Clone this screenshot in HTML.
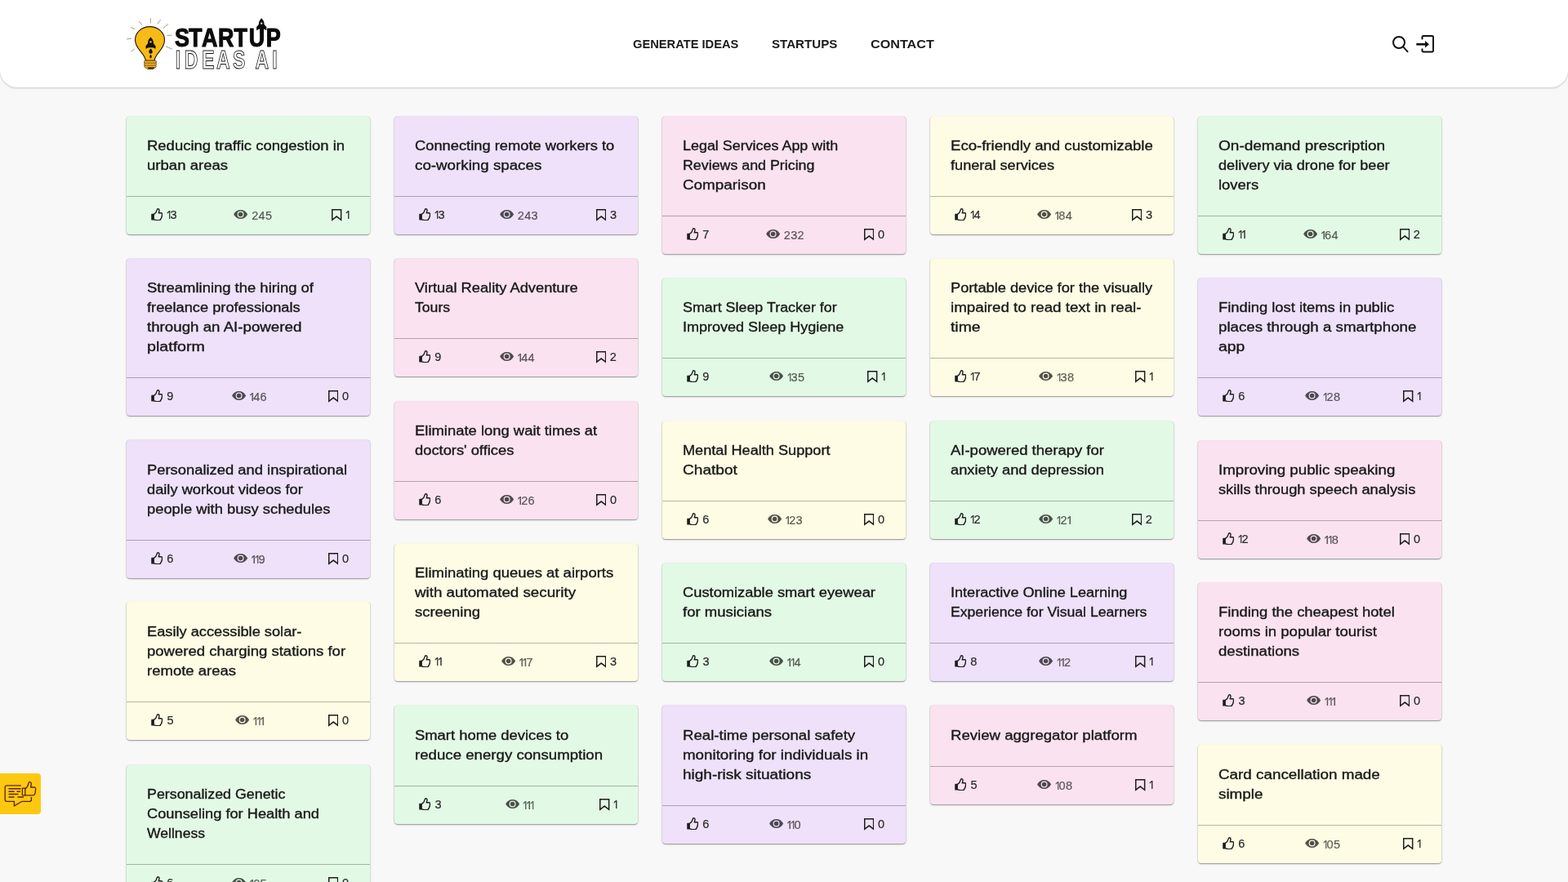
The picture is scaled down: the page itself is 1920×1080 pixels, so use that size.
<!DOCTYPE html>
<html lang="en"><head><meta charset="utf-8"><title>Startup Ideas AI</title>
<style>
*{box-sizing:border-box;margin:0;padding:0}
html,body{width:1920px;height:1080px;overflow:hidden}
body{background:#f8f8f8;font-family:"Liberation Sans",sans-serif;color:#1f1f1f;position:relative}
header{position:absolute;left:0;top:0;width:1920px;height:107px;background:#fff;border-radius:0 0 21px 21px;box-shadow:0 1px 3px rgba(0,0,0,.13),0 1px 2px rgba(0,0,0,.08)}
header nav a{position:absolute;top:44.1px;line-height:20px;font-size:15.2px;font-weight:700;color:#1a1a1a;white-space:nowrap;transform-origin:0 50%;text-decoration:none}
.logo{position:absolute;left:150px;top:16px}
.hi{position:absolute;left:1700px;top:40px}
.card{position:absolute;width:298px;border-radius:4px;box-shadow:0 2px 1px -1px rgba(0,0,0,.2),0 1px 1px 0 rgba(0,0,0,.14),0 1px 3px 0 rgba(0,0,0,.12),1px 0 0 0 rgba(0,0,0,.07),-1px 0 0 0 rgba(0,0,0,.07),0 -1px 1px -.5px var(--c)}
.t{position:absolute;left:24.5px;top:23.9px;font-weight:400;font-size:16.0px;line-height:24px;color:#181818;-webkit-text-stroke:.34px #181818}
.t span{display:block;white-space:nowrap;transform-origin:0 50%}
.f{position:absolute;left:0;right:0;bottom:0;height:47px;border-top:1px solid rgba(0,0,0,.28)}
.f .g{position:absolute;top:0;height:46px;display:flex;align-items:center;color:#1c1c1c}
.f .g.v{color:rgba(0,0,0,.68)}
.f .n{position:absolute;top:-1.1px;height:46px;line-height:46px;font-size:14.5px;letter-spacing:0.336px;color:#2a2a2a;white-space:nowrap;-webkit-text-stroke:.2px currentColor}
.f .n.v{color:rgba(0,0,0,.62);top:-.1px}
.f .n i{font-style:normal;display:inline-block;width:4.4px;letter-spacing:0;text-indent:-.75px;clip-path:inset(0 0 19.4px 0);transform:translateY(.6px) scaleY(1.1);transform-origin:50% 18px}
.ic{display:block}
.ic.like{margin-top:-3px}
.ic.eye{margin-top:-3px}
.ic.bm{margin-top:-1.3px}
.fb{position:absolute;left:0;top:947px;width:50px;height:50px;background:#fec810;border-radius:0 4px 4px 0}
</style></head>
<body>
<header>
<svg class="logo" width="200" height="76" viewBox="150 16 200 76">
<g stroke="#555" stroke-width=".6" stroke-linecap="round" fill="none">
<path d="M184.300 22.500v5.500M170.500 26.500l3 3.500M196.500 24.500l-3.500 4.500M205.500 29.500l-5.500 5M160.500 33.500l4 2M205 43.500l5 -.300M155.500 47.800l5 -.500M203.500 57l7 3M164.500 60l-3.500 3"/>
</g>
<path d="M183.500 32.600c-10 0-18 7.200-18 16.500 0 5.800 3.200 9.800 6.500 13.800 2.800 3.400 5.800 6.800 6.300 11.300h10.800c.5-4.500 3.500-7.900 6.300-11.300 3.300-4 6.100-8 6.100-13.800 0-9.300-8-16.500-18-16.500z" fill="#f6bb16" stroke="#24160c" stroke-width="1.1"/>
<path d="M177.800 74.200h12.200c1 0 1.600.6 1.600 1.400s-.4 1.300-1 1.500c.6.200 1 .7 1 1.400 0 .8-.5 1.300-1.100 1.500.5.300.8.700.8 1.300 0 1-1.200 1.700-2.300 2l-1.600 1.300h-6.800l-1.600-1.300c-1.200-.3-2.300-1-2.300-2 0-.6.300-1 .8-1.300-.7-.2-1.100-.7-1.100-1.500 0-.7.400-1.200 1-1.400-.6-.2-1-.8-1-1.500s.6-1.400 1.400-1.400z" fill="#f0b020" stroke="#3a2614" stroke-width=".7"/>
<path d="M176.800 77.200h14.400M176.800 80.100h14.200" stroke="#5a3a18" stroke-width=".7" fill="none"/><path d="M180.500 82.300h8.800l-1.300 2.300h-6.200z" fill="#3a2a22"/>
<path d="M184.500 45.400c-2.400 2-3.600 4.800-3.600 8.200l-2.400 2.600v3.600l3.200-1.600h5.600l3.200 1.600v-3.600l-2.400-2.600c0-3.400-1.200-6.200-3.600-8.200z" fill="#111"/>
<circle cx="184.500" cy="51.200" r="1.200" fill="#f7b81a"/>
<path d="M184.500 59.500c-1.500 1.400-2.200 2.700-2.200 3.900 0 1.300 1 2.300 2.200 2.300s2.200-1 2.200-2.300c0-1.200-.7-2.500-2.200-3.900zM184.500 66.800c-.9 1-1.300 1.800-1.300 2.500 0 .8.600 1.600 1.300 2.400.7-.8 1.300-1.600 1.300-2.400 0-.7-.4-1.500-1.300-2.500z" fill="#111"/>
<g transform="translate(0 57) scale(0.88 1)"><text y="0" x="243.2 262.4 280.6 303.5 325.5 346.4 370.1" font-family="'Liberation Sans',sans-serif" font-weight="700" font-size="30.6" fill="#0b0b0b" stroke="#0b0b0b" stroke-width="1" stroke-linejoin="round" vector-effect="non-scaling-stroke">STARTUP</text></g>
<path d="M320.200 22.300c-2.300 2-3.400 4.700-3.400 7.800l-2.700 2.900v4.300l3.300-1.700h.6v5h4.400v-5h.6l3.300 1.700v-4.300l-2.700-2.900c0-3.100-1.100-5.800-3.400-7.800z" fill="#0b0b0b"/><circle cx="320.200" cy="28.600" r="1.200" fill="#fff"/>
<g transform="translate(0 83.600) scale(0.72 1)"><text y="0" x="298.2 313.4 343.5 368.0 395.7 420.7 434.2 462.8" font-family="'Liberation Sans',sans-serif" font-weight="700" font-size="32" fill="#fff" stroke="#151515" stroke-width=".85" vector-effect="non-scaling-stroke">IDEAS AI</text></g>
</svg>
<nav><a style="left:775.3px;transform:scaleX(0.9659)">GENERATE IDEAS</a><a style="left:945.1px;transform:scaleX(0.9952)">STARTUPS</a><a style="left:1065.5px;transform:scaleX(1.0645)">CONTACT</a></nav>
<svg class="hi" width="60" height="28" viewBox="1700 40 60 28" fill="none" stroke="#111" stroke-width="2" stroke-linecap="round" stroke-linejoin="round">
<circle cx="1713" cy="52" r="7"/>
<path d="M1718.200 57.400l5.300 5.800"/>
<path d="M1741.500 47.600v-2.100a1.500 1.500 0 0 1 1.500-1.500h10.500a1.500 1.500 0 0 1 1.500 1.500v16.500a1.500 1.500 0 0 1-1.500 1.500h-10.500a1.500 1.500 0 0 1-1.500-1.500v-1.700"/>
<path d="M1734.300 54.200h11.500" stroke-width="2.700" stroke-linecap="butt"/>
<path d="M1745 49.900l5 4.300-5 4.300z" fill="#111" stroke="none"/>
</svg>
</header>
<main>
<article class="card" style="left:155px;top:143px;height:144px;--c:#e2fae5;background:#e2fae5"><h3 class="t" style="top:23.95px"><span style="transform:scaleX(1.155)">Reducing traffic congestion in</span>
<span style="transform:scaleX(1.1601)">urban areas</span>
</h3><div class="f"><span class="g" style="left:29.9px"><svg class="ic like" viewBox="0 0 15 16" width="14.4" height="15.6"><path d="M.9 7.4h2.500v7H.9z" fill="currentColor" stroke="currentColor" stroke-width="1.2" stroke-linejoin="round"/><path d="M3.600 7.6c1.900-1.200 3.300-3 3.800-5.300.2-1.1.7-1.6 1.4-1.6 1 0 1.6.9 1.6 2.1 0 1-.3 2.1-.8 3.1h3.2c.9 0 1.5.6 1.5 1.400 0 .5-.2.9-.5 1.2.2.3.3.6.3 1 0 .6-.3 1.100-.8 1.400.1.2.1.4.1.6 0 .7-.4 1.3-1 1.500 0 1.200-.8 2.100-2 2.100H6.900c-.900 0-1.700-.2-2.800-.7" fill="none" stroke="currentColor" stroke-width="1.45" stroke-linejoin="round" stroke-linecap="round"/></svg></span><span class="n" style="left:49.16px"><i>1</i>3</span><span class="g v" style="left:131.17px"><svg class="ic eye" viewBox="0 0 17.2 11" width="17.2" height="11"><path fill-rule="evenodd" d="M8.6 0C4.900 0 2 1.900.1 5.500c1.900 3.600 4.800 5.500 8.500 5.500s6.600-1.900 8.500-5.500C15.200 1.900 12.300 0 8.600 0zm0 1.500a4 4 0 1 1 0 8 4 4 0 0 1 0-8zm0 1.200a2.800 2.800 0 1 0 0 5.600 2.800 2.800 0 0 0 0-5.600z" fill="currentColor"/></svg></span><span class="n v" style="left:153.15px">245</span><span class="g" style="left:251.3px"><svg class="ic bm" viewBox="0 0 12.4 14.4" width="12.4" height="14.4"><path d="M.75.75h10.900v12.500l-5.450-4.200-5.450 4.200z" fill="none" stroke="currentColor" stroke-width="1.5" stroke-linejoin="miter"/></svg></span><span class="n" style="left:268.36px"><i>1</i></span></div></article>
<article class="card" style="left:155px;top:317px;height:192px;--c:#eee1f9;background:#eee1f9"><h3 class="t" style="top:23.95px"><span style="transform:scaleX(1.1525)">Streamlining the hiring of</span>
<span style="transform:scaleX(1.1408)">freelance professionals</span>
<span style="transform:scaleX(1.1694)">through an AI-powered</span>
<span style="transform:scaleX(1.2272)">platform</span>
</h3><div class="f"><span class="g" style="left:29.9px"><svg class="ic like" viewBox="0 0 15 16" width="14.4" height="15.6"><path d="M.9 7.4h2.500v7H.9z" fill="currentColor" stroke="currentColor" stroke-width="1.2" stroke-linejoin="round"/><path d="M3.600 7.6c1.900-1.200 3.300-3 3.800-5.300.2-1.1.7-1.6 1.4-1.6 1 0 1.6.9 1.6 2.1 0 1-.3 2.1-.8 3.1h3.2c.9 0 1.5.6 1.5 1.400 0 .5-.2.9-.5 1.2.2.3.3.6.3 1 0 .6-.3 1.100-.8 1.400.1.2.1.4.1.6 0 .7-.4 1.3-1 1.500 0 1.200-.8 2.100-2 2.100H6.900c-.900 0-1.700-.2-2.800-.7" fill="none" stroke="currentColor" stroke-width="1.45" stroke-linejoin="round" stroke-linecap="round"/></svg></span><span class="n" style="left:49.32px">9</span><span class="g v" style="left:128.97px"><svg class="ic eye" viewBox="0 0 17.2 11" width="17.2" height="11"><path fill-rule="evenodd" d="M8.6 0C4.900 0 2 1.900.1 5.500c1.900 3.600 4.800 5.500 8.500 5.500s6.600-1.900 8.500-5.500C15.200 1.900 12.300 0 8.600 0zm0 1.500a4 4 0 1 1 0 8 4 4 0 0 1 0-8zm0 1.200a2.800 2.800 0 1 0 0 5.600 2.800 2.800 0 0 0 0-5.600z" fill="currentColor"/></svg></span><span class="n v" style="left:150.83px"><i>1</i>46</span><span class="g" style="left:246.6px"><svg class="ic bm" viewBox="0 0 12.4 14.4" width="12.4" height="14.4"><path d="M.75.75h10.900v12.500l-5.450-4.200-5.450 4.200z" fill="none" stroke="currentColor" stroke-width="1.5" stroke-linejoin="miter"/></svg></span><span class="n" style="left:263.93px">0</span></div></article>
<article class="card" style="left:155px;top:539px;height:169px;--c:#eee1f9;background:#eee1f9"><h3 class="t" style="top:24.95px"><span style="transform:scaleX(1.1481)">Personalized and inspirational</span>
<span style="transform:scaleX(1.1415)">daily workout videos for</span>
<span style="transform:scaleX(1.147)">people with busy schedules</span>
</h3><div class="f"><span class="g" style="left:29.9px"><svg class="ic like" viewBox="0 0 15 16" width="14.4" height="15.6"><path d="M.9 7.4h2.500v7H.9z" fill="currentColor" stroke="currentColor" stroke-width="1.2" stroke-linejoin="round"/><path d="M3.600 7.6c1.900-1.200 3.300-3 3.800-5.300.2-1.1.7-1.6 1.4-1.6 1 0 1.6.9 1.6 2.1 0 1-.3 2.1-.8 3.1h3.2c.9 0 1.5.6 1.5 1.400 0 .5-.2.9-.5 1.2.2.3.3.6.3 1 0 .6-.3 1.100-.8 1.400.1.2.1.4.1.6 0 .7-.4 1.3-1 1.500 0 1.200-.8 2.100-2 2.100H6.900c-.900 0-1.700-.2-2.800-.7" fill="none" stroke="currentColor" stroke-width="1.45" stroke-linejoin="round" stroke-linecap="round"/></svg></span><span class="n" style="left:49.26px">6</span><span class="g v" style="left:130.97px"><svg class="ic eye" viewBox="0 0 17.2 11" width="17.2" height="11"><path fill-rule="evenodd" d="M8.6 0C4.900 0 2 1.900.1 5.500c1.900 3.600 4.800 5.500 8.500 5.500s6.600-1.900 8.500-5.500C15.200 1.900 12.300 0 8.600 0zm0 1.500a4 4 0 1 1 0 8 4 4 0 0 1 0-8zm0 1.200a2.800 2.800 0 1 0 0 5.600 2.800 2.800 0 0 0 0-5.600z" fill="currentColor"/></svg></span><span class="n v" style="left:152.83px"><i>1</i><i>1</i>9</span><span class="g" style="left:246.6px"><svg class="ic bm" viewBox="0 0 12.4 14.4" width="12.4" height="14.4"><path d="M.75.75h10.900v12.500l-5.450-4.200-5.450 4.200z" fill="none" stroke="currentColor" stroke-width="1.5" stroke-linejoin="miter"/></svg></span><span class="n" style="left:263.93px">0</span></div></article>
<article class="card" style="left:155px;top:737px;height:169px;--c:#fefce4;background:#fefce4"><h3 class="t" style="top:24.95px"><span style="transform:scaleX(1.1391)">Easily accessible solar-</span><span style="transform:scaleX(1.1581)">powered charging stations for</span>
<span style="transform:scaleX(1.1569)">remote areas</span>
</h3><div class="f"><span class="g" style="left:29.9px"><svg class="ic like" viewBox="0 0 15 16" width="14.4" height="15.6"><path d="M.9 7.4h2.500v7H.9z" fill="currentColor" stroke="currentColor" stroke-width="1.2" stroke-linejoin="round"/><path d="M3.600 7.6c1.900-1.200 3.300-3 3.800-5.300.2-1.1.7-1.6 1.4-1.6 1 0 1.6.9 1.6 2.1 0 1-.3 2.1-.8 3.1h3.2c.9 0 1.5.6 1.5 1.400 0 .5-.2.9-.5 1.2.2.3.3.6.3 1 0 .6-.3 1.100-.8 1.400.1.2.1.4.1.6 0 .7-.4 1.3-1 1.500 0 1.200-.8 2.100-2 2.100H6.900c-.900 0-1.700-.2-2.800-.7" fill="none" stroke="currentColor" stroke-width="1.45" stroke-linejoin="round" stroke-linecap="round"/></svg></span><span class="n" style="left:49.42px">5</span><span class="g v" style="left:133.15px"><svg class="ic eye" viewBox="0 0 17.2 11" width="17.2" height="11"><path fill-rule="evenodd" d="M8.6 0C4.900 0 2 1.900.1 5.500c1.900 3.600 4.800 5.500 8.500 5.500s6.600-1.900 8.500-5.500C15.200 1.900 12.300 0 8.600 0zm0 1.500a4 4 0 1 1 0 8 4 4 0 0 1 0-8zm0 1.200a2.800 2.800 0 1 0 0 5.600 2.800 2.800 0 0 0 0-5.600z" fill="currentColor"/></svg></span><span class="n v" style="left:155.01px"><i>1</i><i>1</i><i>1</i></span><span class="g" style="left:246.6px"><svg class="ic bm" viewBox="0 0 12.4 14.4" width="12.4" height="14.4"><path d="M.75.75h10.900v12.500l-5.450-4.200-5.450 4.200z" fill="none" stroke="currentColor" stroke-width="1.5" stroke-linejoin="miter"/></svg></span><span class="n" style="left:263.93px">0</span></div></article>
<article class="card" style="left:155px;top:937px;height:168px;--c:#e2fae5;background:#e2fae5"><h3 class="t" style="top:23.95px"><span style="transform:scaleX(1.1139)">Personalized Genetic</span>
<span style="transform:scaleX(1.1406)">Counseling for Health and</span>
<span style="transform:scaleX(1.0988)">Wellness</span>
</h3><div class="f"><span class="g" style="left:29.9px"><svg class="ic like" viewBox="0 0 15 16" width="14.4" height="15.6"><path d="M.9 7.4h2.500v7H.9z" fill="currentColor" stroke="currentColor" stroke-width="1.2" stroke-linejoin="round"/><path d="M3.600 7.6c1.900-1.200 3.300-3 3.800-5.300.2-1.1.7-1.6 1.4-1.6 1 0 1.6.9 1.6 2.1 0 1-.3 2.1-.8 3.1h3.2c.9 0 1.5.6 1.5 1.400 0 .5-.2.9-.5 1.2.2.3.3.6.3 1 0 .6-.3 1.100-.8 1.400.1.2.1.4.1.6 0 .7-.4 1.3-1 1.500 0 1.200-.8 2.100-2 2.100H6.900c-.900 0-1.700-.2-2.800-.7" fill="none" stroke="currentColor" stroke-width="1.45" stroke-linejoin="round" stroke-linecap="round"/></svg></span><span class="n" style="left:49.26px">6</span><span class="g v" style="left:128.97px"><svg class="ic eye" viewBox="0 0 17.2 11" width="17.2" height="11"><path fill-rule="evenodd" d="M8.6 0C4.900 0 2 1.900.1 5.500c1.900 3.600 4.800 5.500 8.500 5.500s6.600-1.900 8.500-5.500C15.200 1.900 12.300 0 8.600 0zm0 1.500a4 4 0 1 1 0 8 4 4 0 0 1 0-8zm0 1.200a2.800 2.800 0 1 0 0 5.600 2.800 2.800 0 0 0 0-5.600z" fill="currentColor"/></svg></span><span class="n v" style="left:150.83px"><i>1</i>05</span><span class="g" style="left:246.6px"><svg class="ic bm" viewBox="0 0 12.4 14.4" width="12.4" height="14.4"><path d="M.75.75h10.900v12.500l-5.450-4.200-5.450 4.200z" fill="none" stroke="currentColor" stroke-width="1.5" stroke-linejoin="miter"/></svg></span><span class="n" style="left:263.93px">0</span></div></article>
<article class="card" style="left:483px;top:143px;height:144px;--c:#eee1f9;background:#eee1f9"><h3 class="t" style="top:23.95px"><span style="transform:scaleX(1.1441)">Connecting remote workers to</span>
<span style="transform:scaleX(1.1721)">co-working spaces</span>
</h3><div class="f"><span class="g" style="left:29.9px"><svg class="ic like" viewBox="0 0 15 16" width="14.4" height="15.6"><path d="M.9 7.4h2.500v7H.9z" fill="currentColor" stroke="currentColor" stroke-width="1.2" stroke-linejoin="round"/><path d="M3.600 7.6c1.900-1.200 3.300-3 3.800-5.300.2-1.1.7-1.6 1.4-1.6 1 0 1.6.9 1.6 2.1 0 1-.3 2.1-.8 3.1h3.2c.9 0 1.5.6 1.5 1.400 0 .5-.2.9-.5 1.2.2.3.3.6.3 1 0 .6-.3 1.100-.8 1.400.1.2.1.4.1.6 0 .7-.4 1.3-1 1.500 0 1.200-.8 2.100-2 2.100H6.900c-.900 0-1.700-.2-2.800-.7" fill="none" stroke="currentColor" stroke-width="1.45" stroke-linejoin="round" stroke-linecap="round"/></svg></span><span class="n" style="left:49.16px"><i>1</i>3</span><span class="g v" style="left:128.82px"><svg class="ic eye" viewBox="0 0 17.2 11" width="17.2" height="11"><path fill-rule="evenodd" d="M8.6 0C4.900 0 2 1.900.1 5.500c1.900 3.600 4.800 5.500 8.500 5.500s6.600-1.900 8.500-5.500C15.200 1.900 12.300 0 8.600 0zm0 1.500a4 4 0 1 1 0 8 4 4 0 0 1 0-8zm0 1.200a2.800 2.800 0 1 0 0 5.600 2.800 2.800 0 0 0 0-5.600z" fill="currentColor"/></svg></span><span class="n v" style="left:150.8px">243</span><span class="g" style="left:246.6px"><svg class="ic bm" viewBox="0 0 12.4 14.4" width="12.4" height="14.4"><path d="M.75.75h10.900v12.500l-5.450-4.200-5.450 4.200z" fill="none" stroke="currentColor" stroke-width="1.5" stroke-linejoin="miter"/></svg></span><span class="n" style="left:263.95px">3</span></div></article>
<article class="card" style="left:483px;top:317px;height:144px;--c:#fae2f0;background:#fae2f0"><h3 class="t" style="top:23.95px"><span style="transform:scaleX(1.1422)">Virtual Reality Adventure</span>
<span style="transform:scaleX(1.1017)">Tours</span>
</h3><div class="f"><span class="g" style="left:29.9px"><svg class="ic like" viewBox="0 0 15 16" width="14.4" height="15.6"><path d="M.9 7.4h2.500v7H.9z" fill="currentColor" stroke="currentColor" stroke-width="1.2" stroke-linejoin="round"/><path d="M3.600 7.6c1.900-1.200 3.300-3 3.800-5.300.2-1.1.7-1.6 1.4-1.6 1 0 1.6.9 1.6 2.1 0 1-.3 2.1-.8 3.1h3.2c.9 0 1.5.6 1.5 1.400 0 .5-.2.9-.5 1.2.2.3.3.6.3 1 0 .6-.3 1.100-.8 1.400.1.2.1.4.1.6 0 .7-.4 1.3-1 1.500 0 1.200-.8 2.100-2 2.100H6.900c-.900 0-1.700-.2-2.800-.7" fill="none" stroke="currentColor" stroke-width="1.45" stroke-linejoin="round" stroke-linecap="round"/></svg></span><span class="n" style="left:49.32px">9</span><span class="g v" style="left:128.97px"><svg class="ic eye" viewBox="0 0 17.2 11" width="17.2" height="11"><path fill-rule="evenodd" d="M8.6 0C4.900 0 2 1.900.1 5.500c1.900 3.600 4.800 5.500 8.500 5.500s6.600-1.900 8.500-5.500C15.200 1.900 12.300 0 8.600 0zm0 1.500a4 4 0 1 1 0 8 4 4 0 0 1 0-8zm0 1.200a2.800 2.800 0 1 0 0 5.600 2.800 2.800 0 0 0 0-5.600z" fill="currentColor"/></svg></span><span class="n v" style="left:150.83px"><i>1</i>44</span><span class="g" style="left:246.6px"><svg class="ic bm" viewBox="0 0 12.4 14.4" width="12.4" height="14.4"><path d="M.75.75h10.900v12.500l-5.450-4.200-5.450 4.200z" fill="none" stroke="currentColor" stroke-width="1.5" stroke-linejoin="miter"/></svg></span><span class="n" style="left:263.77px">2</span></div></article>
<article class="card" style="left:483px;top:492px;height:144px;--c:#fae2f0;background:#fae2f0"><h3 class="t" style="top:23.95px"><span style="transform:scaleX(1.1514)">Eliminate long wait times at</span>
<span style="transform:scaleX(1.1452)">doctors&#x27; offices</span>
</h3><div class="f"><span class="g" style="left:29.9px"><svg class="ic like" viewBox="0 0 15 16" width="14.4" height="15.6"><path d="M.9 7.4h2.500v7H.9z" fill="currentColor" stroke="currentColor" stroke-width="1.2" stroke-linejoin="round"/><path d="M3.600 7.6c1.900-1.200 3.300-3 3.800-5.300.2-1.1.7-1.6 1.4-1.6 1 0 1.6.9 1.6 2.1 0 1-.3 2.1-.8 3.1h3.2c.9 0 1.5.6 1.5 1.400 0 .5-.2.9-.5 1.2.2.3.3.6.3 1 0 .6-.3 1.100-.8 1.400.1.2.1.4.1.6 0 .7-.4 1.3-1 1.500 0 1.200-.8 2.100-2 2.100H6.900c-.900 0-1.700-.2-2.800-.7" fill="none" stroke="currentColor" stroke-width="1.45" stroke-linejoin="round" stroke-linecap="round"/></svg></span><span class="n" style="left:49.26px">6</span><span class="g v" style="left:128.97px"><svg class="ic eye" viewBox="0 0 17.2 11" width="17.2" height="11"><path fill-rule="evenodd" d="M8.6 0C4.900 0 2 1.900.1 5.500c1.900 3.600 4.800 5.500 8.500 5.500s6.600-1.900 8.500-5.500C15.200 1.900 12.300 0 8.600 0zm0 1.500a4 4 0 1 1 0 8 4 4 0 0 1 0-8zm0 1.200a2.800 2.800 0 1 0 0 5.600 2.800 2.800 0 0 0 0-5.600z" fill="currentColor"/></svg></span><span class="n v" style="left:150.83px"><i>1</i>26</span><span class="g" style="left:246.6px"><svg class="ic bm" viewBox="0 0 12.4 14.4" width="12.4" height="14.4"><path d="M.75.75h10.900v12.500l-5.450-4.200-5.450 4.200z" fill="none" stroke="currentColor" stroke-width="1.5" stroke-linejoin="miter"/></svg></span><span class="n" style="left:263.93px">0</span></div></article>
<article class="card" style="left:483px;top:666px;height:168px;--c:#fefce4;background:#fefce4"><h3 class="t" style="top:23.95px"><span style="transform:scaleX(1.1536)">Eliminating queues at airports</span>
<span style="transform:scaleX(1.1729)">with automated security</span>
<span style="transform:scaleX(1.1523)">screening</span>
</h3><div class="f"><span class="g" style="left:29.9px"><svg class="ic like" viewBox="0 0 15 16" width="14.4" height="15.6"><path d="M.9 7.4h2.500v7H.9z" fill="currentColor" stroke="currentColor" stroke-width="1.2" stroke-linejoin="round"/><path d="M3.600 7.6c1.900-1.200 3.300-3 3.800-5.300.2-1.1.7-1.6 1.4-1.6 1 0 1.6.9 1.6 2.1 0 1-.3 2.1-.8 3.1h3.2c.9 0 1.5.6 1.5 1.400 0 .5-.2.9-.5 1.2.2.3.3.6.3 1 0 .6-.3 1.100-.8 1.400.1.2.1.4.1.6 0 .7-.4 1.3-1 1.500 0 1.200-.8 2.100-2 2.100H6.900c-.900 0-1.700-.2-2.800-.7" fill="none" stroke="currentColor" stroke-width="1.45" stroke-linejoin="round" stroke-linecap="round"/></svg></span><span class="n" style="left:49.16px"><i>1</i><i>1</i></span><span class="g v" style="left:130.82px"><svg class="ic eye" viewBox="0 0 17.2 11" width="17.2" height="11"><path fill-rule="evenodd" d="M8.6 0C4.900 0 2 1.900.1 5.500c1.900 3.600 4.800 5.500 8.500 5.500s6.600-1.900 8.500-5.500C15.200 1.900 12.300 0 8.600 0zm0 1.500a4 4 0 1 1 0 8 4 4 0 0 1 0-8zm0 1.200a2.800 2.800 0 1 0 0 5.600 2.800 2.800 0 0 0 0-5.600z" fill="currentColor"/></svg></span><span class="n v" style="left:152.68px"><i>1</i><i>1</i>7</span><span class="g" style="left:246.6px"><svg class="ic bm" viewBox="0 0 12.4 14.4" width="12.4" height="14.4"><path d="M.75.75h10.900v12.500l-5.450-4.200-5.450 4.200z" fill="none" stroke="currentColor" stroke-width="1.5" stroke-linejoin="miter"/></svg></span><span class="n" style="left:263.95px">3</span></div></article>
<article class="card" style="left:483px;top:864px;height:145px;--c:#e2fae5;background:#e2fae5"><h3 class="t" style="top:24.95px"><span style="transform:scaleX(1.1501)">Smart home devices to</span>
<span style="transform:scaleX(1.1654)">reduce energy consumption</span>
</h3><div class="f"><span class="g" style="left:29.9px"><svg class="ic like" viewBox="0 0 15 16" width="14.4" height="15.6"><path d="M.9 7.4h2.500v7H.9z" fill="currentColor" stroke="currentColor" stroke-width="1.2" stroke-linejoin="round"/><path d="M3.600 7.6c1.900-1.200 3.300-3 3.800-5.300.2-1.1.7-1.6 1.4-1.6 1 0 1.6.9 1.6 2.1 0 1-.3 2.1-.8 3.1h3.2c.9 0 1.5.6 1.5 1.400 0 .5-.2.9-.5 1.2.2.3.3.6.3 1 0 .6-.3 1.100-.8 1.400.1.2.1.4.1.6 0 .7-.4 1.3-1 1.500 0 1.200-.8 2.100-2 2.100H6.900c-.900 0-1.700-.2-2.800-.7" fill="none" stroke="currentColor" stroke-width="1.45" stroke-linejoin="round" stroke-linecap="round"/></svg></span><span class="n" style="left:49.45px">3</span><span class="g v" style="left:135.5px"><svg class="ic eye" viewBox="0 0 17.2 11" width="17.2" height="11"><path fill-rule="evenodd" d="M8.6 0C4.900 0 2 1.900.1 5.500c1.900 3.600 4.800 5.500 8.500 5.500s6.600-1.900 8.500-5.500C15.200 1.900 12.300 0 8.600 0zm0 1.500a4 4 0 1 1 0 8 4 4 0 0 1 0-8zm0 1.200a2.800 2.800 0 1 0 0 5.600 2.800 2.800 0 0 0 0-5.600z" fill="currentColor"/></svg></span><span class="n v" style="left:157.36px"><i>1</i><i>1</i><i>1</i></span><span class="g" style="left:251.3px"><svg class="ic bm" viewBox="0 0 12.4 14.4" width="12.4" height="14.4"><path d="M.75.75h10.900v12.500l-5.450-4.200-5.450 4.200z" fill="none" stroke="currentColor" stroke-width="1.5" stroke-linejoin="miter"/></svg></span><span class="n" style="left:268.36px"><i>1</i></span></div></article>
<article class="card" style="left:811px;top:143px;height:168px;--c:#fae2f0;background:#fae2f0"><h3 class="t" style="top:23.95px"><span style="transform:scaleX(1.1193)">Legal Services App with</span>
<span style="transform:scaleX(1.1136)">Reviews and Pricing</span>
<span style="transform:scaleX(1.1787)">Comparison</span>
</h3><div class="f"><span class="g" style="left:29.9px"><svg class="ic like" viewBox="0 0 15 16" width="14.4" height="15.6"><path d="M.9 7.4h2.500v7H.9z" fill="currentColor" stroke="currentColor" stroke-width="1.2" stroke-linejoin="round"/><path d="M3.600 7.6c1.900-1.200 3.300-3 3.800-5.300.2-1.1.7-1.6 1.4-1.6 1 0 1.6.9 1.6 2.1 0 1-.3 2.1-.8 3.1h3.2c.9 0 1.5.6 1.5 1.400 0 .5-.2.9-.5 1.2.2.3.3.6.3 1 0 .6-.3 1.100-.8 1.400.1.2.1.4.1.6 0 .7-.4 1.3-1 1.500 0 1.200-.8 2.100-2 2.100H6.900c-.900 0-1.700-.2-2.800-.7" fill="none" stroke="currentColor" stroke-width="1.45" stroke-linejoin="round" stroke-linecap="round"/></svg></span><span class="n" style="left:49.26px">7</span><span class="g v" style="left:126.8px"><svg class="ic eye" viewBox="0 0 17.2 11" width="17.2" height="11"><path fill-rule="evenodd" d="M8.6 0C4.900 0 2 1.900.1 5.500c1.900 3.600 4.800 5.500 8.500 5.500s6.600-1.900 8.500-5.500C15.200 1.900 12.300 0 8.600 0zm0 1.500a4 4 0 1 1 0 8 4 4 0 0 1 0-8zm0 1.200a2.800 2.800 0 1 0 0 5.600 2.800 2.800 0 0 0 0-5.600z" fill="currentColor"/></svg></span><span class="n v" style="left:148.77px">232</span><span class="g" style="left:246.6px"><svg class="ic bm" viewBox="0 0 12.4 14.4" width="12.4" height="14.4"><path d="M.75.75h10.900v12.500l-5.450-4.200-5.450 4.200z" fill="none" stroke="currentColor" stroke-width="1.5" stroke-linejoin="miter"/></svg></span><span class="n" style="left:263.93px">0</span></div></article>
<article class="card" style="left:811px;top:341px;height:144px;--c:#e2fae5;background:#e2fae5"><h3 class="t" style="top:23.95px"><span style="transform:scaleX(1.1166)">Smart Sleep Tracker for</span>
<span style="transform:scaleX(1.1261)">Improved Sleep Hygiene</span>
</h3><div class="f"><span class="g" style="left:29.9px"><svg class="ic like" viewBox="0 0 15 16" width="14.4" height="15.6"><path d="M.9 7.4h2.500v7H.9z" fill="currentColor" stroke="currentColor" stroke-width="1.2" stroke-linejoin="round"/><path d="M3.600 7.6c1.900-1.200 3.300-3 3.800-5.300.2-1.1.7-1.6 1.4-1.6 1 0 1.6.9 1.6 2.1 0 1-.3 2.1-.8 3.1h3.2c.9 0 1.5.6 1.5 1.400 0 .5-.2.9-.5 1.2.2.3.3.6.3 1 0 .6-.3 1.100-.8 1.400.1.2.1.4.1.6 0 .7-.4 1.3-1 1.500 0 1.200-.8 2.100-2 2.100H6.900c-.900 0-1.700-.2-2.800-.7" fill="none" stroke="currentColor" stroke-width="1.45" stroke-linejoin="round" stroke-linecap="round"/></svg></span><span class="n" style="left:49.32px">9</span><span class="g v" style="left:131.32px"><svg class="ic eye" viewBox="0 0 17.2 11" width="17.2" height="11"><path fill-rule="evenodd" d="M8.6 0C4.900 0 2 1.900.1 5.500c1.900 3.600 4.800 5.500 8.500 5.500s6.600-1.900 8.500-5.500C15.200 1.900 12.300 0 8.600 0zm0 1.500a4 4 0 1 1 0 8 4 4 0 0 1 0-8zm0 1.200a2.800 2.800 0 1 0 0 5.600 2.800 2.800 0 0 0 0-5.600z" fill="currentColor"/></svg></span><span class="n v" style="left:153.18px"><i>1</i>35</span><span class="g" style="left:251.3px"><svg class="ic bm" viewBox="0 0 12.4 14.4" width="12.4" height="14.4"><path d="M.75.75h10.900v12.500l-5.450-4.200-5.450 4.200z" fill="none" stroke="currentColor" stroke-width="1.5" stroke-linejoin="miter"/></svg></span><span class="n" style="left:268.36px"><i>1</i></span></div></article>
<article class="card" style="left:811px;top:516px;height:144px;--c:#fefce4;background:#fefce4"><h3 class="t" style="top:23.95px"><span style="transform:scaleX(1.1338)">Mental Health Support</span>
<span style="transform:scaleX(1.1932)">Chatbot</span>
</h3><div class="f"><span class="g" style="left:29.9px"><svg class="ic like" viewBox="0 0 15 16" width="14.4" height="15.6"><path d="M.9 7.4h2.500v7H.9z" fill="currentColor" stroke="currentColor" stroke-width="1.2" stroke-linejoin="round"/><path d="M3.600 7.6c1.900-1.200 3.300-3 3.800-5.300.2-1.1.7-1.6 1.4-1.6 1 0 1.6.9 1.6 2.1 0 1-.3 2.1-.8 3.1h3.2c.9 0 1.5.6 1.5 1.400 0 .5-.2.9-.5 1.2.2.3.3.6.3 1 0 .6-.3 1.100-.8 1.400.1.2.1.4.1.6 0 .7-.4 1.3-1 1.500 0 1.200-.8 2.100-2 2.100H6.900c-.900 0-1.700-.2-2.800-.7" fill="none" stroke="currentColor" stroke-width="1.45" stroke-linejoin="round" stroke-linecap="round"/></svg></span><span class="n" style="left:49.26px">6</span><span class="g v" style="left:128.97px"><svg class="ic eye" viewBox="0 0 17.2 11" width="17.2" height="11"><path fill-rule="evenodd" d="M8.6 0C4.900 0 2 1.900.1 5.500c1.900 3.600 4.800 5.500 8.500 5.500s6.600-1.900 8.500-5.500C15.200 1.900 12.300 0 8.600 0zm0 1.500a4 4 0 1 1 0 8 4 4 0 0 1 0-8zm0 1.200a2.800 2.800 0 1 0 0 5.600 2.800 2.800 0 0 0 0-5.600z" fill="currentColor"/></svg></span><span class="n v" style="left:150.83px"><i>1</i>23</span><span class="g" style="left:246.6px"><svg class="ic bm" viewBox="0 0 12.4 14.4" width="12.4" height="14.4"><path d="M.75.75h10.900v12.500l-5.450-4.200-5.450 4.200z" fill="none" stroke="currentColor" stroke-width="1.5" stroke-linejoin="miter"/></svg></span><span class="n" style="left:263.93px">0</span></div></article>
<article class="card" style="left:811px;top:690px;height:144px;--c:#e2fae5;background:#e2fae5"><h3 class="t" style="top:23.95px"><span style="transform:scaleX(1.1437)">Customizable smart eyewear</span>
<span style="transform:scaleX(1.1565)">for musicians</span>
</h3><div class="f"><span class="g" style="left:29.9px"><svg class="ic like" viewBox="0 0 15 16" width="14.4" height="15.6"><path d="M.9 7.4h2.500v7H.9z" fill="currentColor" stroke="currentColor" stroke-width="1.2" stroke-linejoin="round"/><path d="M3.600 7.6c1.900-1.200 3.300-3 3.800-5.300.2-1.1.7-1.6 1.4-1.6 1 0 1.6.9 1.6 2.1 0 1-.3 2.1-.8 3.1h3.2c.9 0 1.5.6 1.5 1.400 0 .5-.2.9-.5 1.2.2.3.3.6.3 1 0 .6-.3 1.100-.8 1.400.1.2.1.4.1.6 0 .7-.4 1.3-1 1.500 0 1.200-.8 2.100-2 2.100H6.900c-.900 0-1.700-.2-2.800-.7" fill="none" stroke="currentColor" stroke-width="1.45" stroke-linejoin="round" stroke-linecap="round"/></svg></span><span class="n" style="left:49.45px">3</span><span class="g v" style="left:130.97px"><svg class="ic eye" viewBox="0 0 17.2 11" width="17.2" height="11"><path fill-rule="evenodd" d="M8.6 0C4.900 0 2 1.900.1 5.500c1.900 3.600 4.800 5.500 8.500 5.500s6.600-1.900 8.500-5.500C15.200 1.900 12.300 0 8.600 0zm0 1.500a4 4 0 1 1 0 8 4 4 0 0 1 0-8zm0 1.200a2.800 2.800 0 1 0 0 5.600 2.800 2.800 0 0 0 0-5.600z" fill="currentColor"/></svg></span><span class="n v" style="left:152.83px"><i>1</i><i>1</i>4</span><span class="g" style="left:246.6px"><svg class="ic bm" viewBox="0 0 12.4 14.4" width="12.4" height="14.4"><path d="M.75.75h10.900v12.500l-5.450-4.200-5.450 4.200z" fill="none" stroke="currentColor" stroke-width="1.5" stroke-linejoin="miter"/></svg></span><span class="n" style="left:263.93px">0</span></div></article>
<article class="card" style="left:811px;top:864px;height:169px;--c:#eee1f9;background:#eee1f9"><h3 class="t" style="top:24.95px"><span style="transform:scaleX(1.164)">Real-time personal safety</span>
<span style="transform:scaleX(1.1715)">monitoring for individuals in</span>
<span style="transform:scaleX(1.1863)">high-risk situations</span>
</h3><div class="f"><span class="g" style="left:29.9px"><svg class="ic like" viewBox="0 0 15 16" width="14.4" height="15.6"><path d="M.9 7.4h2.500v7H.9z" fill="currentColor" stroke="currentColor" stroke-width="1.2" stroke-linejoin="round"/><path d="M3.600 7.6c1.900-1.200 3.300-3 3.800-5.300.2-1.1.7-1.6 1.4-1.6 1 0 1.6.9 1.6 2.1 0 1-.3 2.1-.8 3.1h3.2c.9 0 1.5.6 1.5 1.400 0 .5-.2.9-.5 1.2.2.3.3.6.3 1 0 .6-.3 1.100-.8 1.400.1.2.1.4.1.6 0 .7-.4 1.3-1 1.500 0 1.200-.8 2.100-2 2.100H6.900c-.900 0-1.700-.2-2.800-.7" fill="none" stroke="currentColor" stroke-width="1.45" stroke-linejoin="round" stroke-linecap="round"/></svg></span><span class="n" style="left:49.26px">6</span><span class="g v" style="left:130.97px"><svg class="ic eye" viewBox="0 0 17.2 11" width="17.2" height="11"><path fill-rule="evenodd" d="M8.6 0C4.900 0 2 1.900.1 5.500c1.900 3.600 4.800 5.500 8.500 5.500s6.600-1.900 8.500-5.500C15.200 1.900 12.300 0 8.600 0zm0 1.500a4 4 0 1 1 0 8 4 4 0 0 1 0-8zm0 1.200a2.800 2.800 0 1 0 0 5.600 2.800 2.800 0 0 0 0-5.600z" fill="currentColor"/></svg></span><span class="n v" style="left:152.83px"><i>1</i><i>1</i>0</span><span class="g" style="left:246.6px"><svg class="ic bm" viewBox="0 0 12.4 14.4" width="12.4" height="14.4"><path d="M.75.75h10.900v12.500l-5.450-4.200-5.450 4.200z" fill="none" stroke="currentColor" stroke-width="1.5" stroke-linejoin="miter"/></svg></span><span class="n" style="left:263.93px">0</span></div></article>
<article class="card" style="left:1139px;top:143px;height:144px;--c:#fefce4;background:#fefce4"><h3 class="t" style="top:23.95px"><span style="transform:scaleX(1.1607)">Eco-friendly and customizable</span>
<span style="transform:scaleX(1.1335)">funeral services</span>
</h3><div class="f"><span class="g" style="left:29.9px"><svg class="ic like" viewBox="0 0 15 16" width="14.4" height="15.6"><path d="M.9 7.4h2.500v7H.9z" fill="currentColor" stroke="currentColor" stroke-width="1.2" stroke-linejoin="round"/><path d="M3.600 7.6c1.900-1.200 3.300-3 3.800-5.300.2-1.1.7-1.6 1.4-1.6 1 0 1.6.9 1.6 2.1 0 1-.3 2.1-.8 3.1h3.2c.9 0 1.5.6 1.5 1.400 0 .5-.2.9-.5 1.2.2.3.3.6.3 1 0 .6-.3 1.100-.8 1.400.1.2.1.4.1.6 0 .7-.4 1.3-1 1.500 0 1.200-.8 2.100-2 2.100H6.900c-.900 0-1.700-.2-2.800-.7" fill="none" stroke="currentColor" stroke-width="1.45" stroke-linejoin="round" stroke-linecap="round"/></svg></span><span class="n" style="left:49.16px"><i>1</i>4</span><span class="g v" style="left:131px"><svg class="ic eye" viewBox="0 0 17.2 11" width="17.2" height="11"><path fill-rule="evenodd" d="M8.6 0C4.900 0 2 1.900.1 5.500c1.900 3.600 4.800 5.500 8.500 5.500s6.600-1.900 8.500-5.500C15.200 1.900 12.300 0 8.600 0zm0 1.500a4 4 0 1 1 0 8 4 4 0 0 1 0-8zm0 1.200a2.800 2.800 0 1 0 0 5.600 2.800 2.800 0 0 0 0-5.600z" fill="currentColor"/></svg></span><span class="n v" style="left:152.86px"><i>1</i>84</span><span class="g" style="left:246.6px"><svg class="ic bm" viewBox="0 0 12.4 14.4" width="12.4" height="14.4"><path d="M.75.75h10.900v12.500l-5.450-4.200-5.450 4.200z" fill="none" stroke="currentColor" stroke-width="1.5" stroke-linejoin="miter"/></svg></span><span class="n" style="left:263.95px">3</span></div></article>
<article class="card" style="left:1139px;top:317px;height:168px;--c:#fefce4;background:#fefce4"><h3 class="t" style="top:23.95px"><span style="transform:scaleX(1.1384)">Portable device for the visually</span>
<span style="transform:scaleX(1.172)">impaired to read text in real-</span><span style="transform:scaleX(1.2078)">time</span>
</h3><div class="f"><span class="g" style="left:29.9px"><svg class="ic like" viewBox="0 0 15 16" width="14.4" height="15.6"><path d="M.9 7.4h2.500v7H.9z" fill="currentColor" stroke="currentColor" stroke-width="1.2" stroke-linejoin="round"/><path d="M3.600 7.6c1.900-1.200 3.300-3 3.800-5.300.2-1.1.7-1.6 1.4-1.6 1 0 1.6.9 1.6 2.1 0 1-.3 2.1-.8 3.1h3.2c.9 0 1.5.6 1.5 1.400 0 .5-.2.9-.5 1.2.2.3.3.6.3 1 0 .6-.3 1.100-.8 1.400.1.2.1.4.1.6 0 .7-.4 1.3-1 1.500 0 1.200-.8 2.100-2 2.100H6.900c-.900 0-1.700-.2-2.800-.7" fill="none" stroke="currentColor" stroke-width="1.45" stroke-linejoin="round" stroke-linecap="round"/></svg></span><span class="n" style="left:49.16px"><i>1</i>7</span><span class="g v" style="left:133.35px"><svg class="ic eye" viewBox="0 0 17.2 11" width="17.2" height="11"><path fill-rule="evenodd" d="M8.6 0C4.900 0 2 1.900.1 5.500c1.900 3.600 4.800 5.500 8.500 5.500s6.600-1.900 8.500-5.500C15.200 1.900 12.300 0 8.600 0zm0 1.500a4 4 0 1 1 0 8 4 4 0 0 1 0-8zm0 1.200a2.800 2.800 0 1 0 0 5.600 2.800 2.800 0 0 0 0-5.600z" fill="currentColor"/></svg></span><span class="n v" style="left:155.21px"><i>1</i>38</span><span class="g" style="left:251.3px"><svg class="ic bm" viewBox="0 0 12.4 14.4" width="12.4" height="14.4"><path d="M.75.75h10.900v12.500l-5.450-4.200-5.450 4.200z" fill="none" stroke="currentColor" stroke-width="1.5" stroke-linejoin="miter"/></svg></span><span class="n" style="left:268.36px"><i>1</i></span></div></article>
<article class="card" style="left:1139px;top:516px;height:144px;--c:#e2fae5;background:#e2fae5"><h3 class="t" style="top:23.95px"><span style="transform:scaleX(1.1547)">AI-powered therapy for</span>
<span style="transform:scaleX(1.142)">anxiety and depression</span>
</h3><div class="f"><span class="g" style="left:29.9px"><svg class="ic like" viewBox="0 0 15 16" width="14.4" height="15.6"><path d="M.9 7.4h2.500v7H.9z" fill="currentColor" stroke="currentColor" stroke-width="1.2" stroke-linejoin="round"/><path d="M3.600 7.6c1.900-1.200 3.300-3 3.800-5.300.2-1.1.7-1.6 1.4-1.6 1 0 1.6.9 1.6 2.1 0 1-.3 2.1-.8 3.1h3.2c.9 0 1.5.6 1.5 1.400 0 .5-.2.9-.5 1.2.2.3.3.6.3 1 0 .6-.3 1.100-.8 1.400.1.2.1.4.1.6 0 .7-.4 1.3-1 1.500 0 1.200-.8 2.100-2 2.100H6.900c-.900 0-1.700-.2-2.800-.7" fill="none" stroke="currentColor" stroke-width="1.45" stroke-linejoin="round" stroke-linecap="round"/></svg></span><span class="n" style="left:49.16px"><i>1</i>2</span><span class="g v" style="left:133.17px"><svg class="ic eye" viewBox="0 0 17.2 11" width="17.2" height="11"><path fill-rule="evenodd" d="M8.6 0C4.900 0 2 1.900.1 5.500c1.900 3.600 4.800 5.500 8.500 5.500s6.600-1.900 8.500-5.500C15.200 1.900 12.300 0 8.600 0zm0 1.500a4 4 0 1 1 0 8 4 4 0 0 1 0-8zm0 1.200a2.800 2.800 0 1 0 0 5.600 2.800 2.800 0 0 0 0-5.600z" fill="currentColor"/></svg></span><span class="n v" style="left:155.03px"><i>1</i>2<i>1</i></span><span class="g" style="left:246.6px"><svg class="ic bm" viewBox="0 0 12.4 14.4" width="12.4" height="14.4"><path d="M.75.75h10.900v12.500l-5.450-4.200-5.450 4.200z" fill="none" stroke="currentColor" stroke-width="1.5" stroke-linejoin="miter"/></svg></span><span class="n" style="left:263.77px">2</span></div></article>
<article class="card" style="left:1139px;top:690px;height:144px;--c:#eee1f9;background:#eee1f9"><h3 class="t" style="top:23.95px"><span style="transform:scaleX(1.1309)">Interactive Online Learning</span>
<span style="transform:scaleX(1.1003)">Experience for Visual Learners</span>
</h3><div class="f"><span class="g" style="left:29.9px"><svg class="ic like" viewBox="0 0 15 16" width="14.4" height="15.6"><path d="M.9 7.4h2.500v7H.9z" fill="currentColor" stroke="currentColor" stroke-width="1.2" stroke-linejoin="round"/><path d="M3.600 7.6c1.900-1.200 3.300-3 3.800-5.300.2-1.1.7-1.6 1.4-1.6 1 0 1.6.9 1.6 2.1 0 1-.3 2.1-.8 3.1h3.2c.9 0 1.5.6 1.5 1.400 0 .5-.2.9-.5 1.2.2.3.3.6.3 1 0 .6-.3 1.100-.8 1.400.1.2.1.4.1.6 0 .7-.4 1.3-1 1.500 0 1.200-.8 2.100-2 2.100H6.900c-.900 0-1.700-.2-2.800-.7" fill="none" stroke="currentColor" stroke-width="1.45" stroke-linejoin="round" stroke-linecap="round"/></svg></span><span class="n" style="left:49.37px">8</span><span class="g v" style="left:133.32px"><svg class="ic eye" viewBox="0 0 17.2 11" width="17.2" height="11"><path fill-rule="evenodd" d="M8.6 0C4.900 0 2 1.900.1 5.500c1.900 3.600 4.800 5.500 8.500 5.500s6.600-1.900 8.500-5.500C15.200 1.900 12.300 0 8.600 0zm0 1.500a4 4 0 1 1 0 8 4 4 0 0 1 0-8zm0 1.200a2.800 2.800 0 1 0 0 5.600 2.800 2.800 0 0 0 0-5.600z" fill="currentColor"/></svg></span><span class="n v" style="left:155.18px"><i>1</i><i>1</i>2</span><span class="g" style="left:251.3px"><svg class="ic bm" viewBox="0 0 12.4 14.4" width="12.4" height="14.4"><path d="M.75.75h10.900v12.500l-5.450-4.200-5.450 4.200z" fill="none" stroke="currentColor" stroke-width="1.5" stroke-linejoin="miter"/></svg></span><span class="n" style="left:268.36px"><i>1</i></span></div></article>
<article class="card" style="left:1139px;top:864px;height:121px;--c:#fae2f0;background:#fae2f0"><h3 class="t" style="top:24.95px"><span style="transform:scaleX(1.1628)">Review aggregator platform</span>
</h3><div class="f"><span class="g" style="left:29.9px"><svg class="ic like" viewBox="0 0 15 16" width="14.4" height="15.6"><path d="M.9 7.4h2.500v7H.9z" fill="currentColor" stroke="currentColor" stroke-width="1.2" stroke-linejoin="round"/><path d="M3.600 7.6c1.900-1.200 3.300-3 3.800-5.300.2-1.1.7-1.6 1.4-1.6 1 0 1.6.9 1.6 2.1 0 1-.3 2.1-.8 3.1h3.2c.9 0 1.5.6 1.5 1.400 0 .5-.2.9-.5 1.2.2.3.3.6.3 1 0 .6-.3 1.100-.8 1.400.1.2.1.4.1.6 0 .7-.4 1.3-1 1.500 0 1.200-.8 2.100-2 2.100H6.900c-.900 0-1.700-.2-2.800-.7" fill="none" stroke="currentColor" stroke-width="1.45" stroke-linejoin="round" stroke-linecap="round"/></svg></span><span class="n" style="left:49.42px">5</span><span class="g v" style="left:131.32px"><svg class="ic eye" viewBox="0 0 17.2 11" width="17.2" height="11"><path fill-rule="evenodd" d="M8.6 0C4.900 0 2 1.900.1 5.500c1.900 3.600 4.800 5.500 8.500 5.500s6.600-1.900 8.500-5.500C15.200 1.900 12.300 0 8.600 0zm0 1.500a4 4 0 1 1 0 8 4 4 0 0 1 0-8zm0 1.200a2.800 2.800 0 1 0 0 5.600 2.800 2.800 0 0 0 0-5.600z" fill="currentColor"/></svg></span><span class="n v" style="left:153.18px"><i>1</i>08</span><span class="g" style="left:251.3px"><svg class="ic bm" viewBox="0 0 12.4 14.4" width="12.4" height="14.4"><path d="M.75.75h10.900v12.500l-5.450-4.200-5.450 4.200z" fill="none" stroke="currentColor" stroke-width="1.5" stroke-linejoin="miter"/></svg></span><span class="n" style="left:268.36px"><i>1</i></span></div></article>
<article class="card" style="left:1467px;top:143px;height:168px;--c:#e2fae5;background:#e2fae5"><h3 class="t" style="top:23.95px"><span style="transform:scaleX(1.1889)">On-demand prescription</span>
<span style="transform:scaleX(1.1327)">delivery via drone for beer</span>
<span style="transform:scaleX(1.1516)">lovers</span>
</h3><div class="f"><span class="g" style="left:29.9px"><svg class="ic like" viewBox="0 0 15 16" width="14.4" height="15.6"><path d="M.9 7.4h2.500v7H.9z" fill="currentColor" stroke="currentColor" stroke-width="1.2" stroke-linejoin="round"/><path d="M3.600 7.6c1.900-1.200 3.300-3 3.800-5.300.2-1.1.7-1.6 1.4-1.6 1 0 1.6.9 1.6 2.1 0 1-.3 2.1-.8 3.1h3.2c.9 0 1.5.6 1.5 1.400 0 .5-.2.9-.5 1.2.2.3.3.6.3 1 0 .6-.3 1.100-.8 1.400.1.2.1.4.1.6 0 .7-.4 1.3-1 1.500 0 1.200-.8 2.100-2 2.100H6.900c-.900 0-1.700-.2-2.800-.7" fill="none" stroke="currentColor" stroke-width="1.45" stroke-linejoin="round" stroke-linecap="round"/></svg></span><span class="n" style="left:49.16px"><i>1</i><i>1</i></span><span class="g v" style="left:128.82px"><svg class="ic eye" viewBox="0 0 17.2 11" width="17.2" height="11"><path fill-rule="evenodd" d="M8.6 0C4.900 0 2 1.900.1 5.500c1.900 3.600 4.800 5.500 8.500 5.500s6.600-1.900 8.500-5.500C15.200 1.900 12.300 0 8.600 0zm0 1.500a4 4 0 1 1 0 8 4 4 0 0 1 0-8zm0 1.200a2.800 2.800 0 1 0 0 5.600 2.800 2.800 0 0 0 0-5.600z" fill="currentColor"/></svg></span><span class="n v" style="left:150.68px"><i>1</i>64</span><span class="g" style="left:246.6px"><svg class="ic bm" viewBox="0 0 12.4 14.4" width="12.4" height="14.4"><path d="M.75.75h10.900v12.500l-5.450-4.200-5.450 4.200z" fill="none" stroke="currentColor" stroke-width="1.5" stroke-linejoin="miter"/></svg></span><span class="n" style="left:263.77px">2</span></div></article>
<article class="card" style="left:1467px;top:341px;height:168px;--c:#eee1f9;background:#eee1f9"><h3 class="t" style="top:23.95px"><span style="transform:scaleX(1.1466)">Finding lost items in public</span>
<span style="transform:scaleX(1.1694)">places through a smartphone</span>
<span style="transform:scaleX(1.2054)">app</span>
</h3><div class="f"><span class="g" style="left:29.9px"><svg class="ic like" viewBox="0 0 15 16" width="14.4" height="15.6"><path d="M.9 7.4h2.500v7H.9z" fill="currentColor" stroke="currentColor" stroke-width="1.2" stroke-linejoin="round"/><path d="M3.600 7.6c1.900-1.200 3.300-3 3.800-5.300.2-1.1.7-1.6 1.4-1.6 1 0 1.6.9 1.6 2.1 0 1-.3 2.1-.8 3.1h3.2c.9 0 1.5.6 1.5 1.400 0 .5-.2.9-.5 1.2.2.3.3.6.3 1 0 .6-.3 1.100-.8 1.400.1.2.1.4.1.6 0 .7-.4 1.3-1 1.500 0 1.200-.8 2.100-2 2.100H6.900c-.900 0-1.700-.2-2.800-.7" fill="none" stroke="currentColor" stroke-width="1.45" stroke-linejoin="round" stroke-linecap="round"/></svg></span><span class="n" style="left:49.26px">6</span><span class="g v" style="left:131.32px"><svg class="ic eye" viewBox="0 0 17.2 11" width="17.2" height="11"><path fill-rule="evenodd" d="M8.6 0C4.900 0 2 1.900.1 5.500c1.900 3.600 4.800 5.500 8.500 5.500s6.600-1.900 8.500-5.500C15.200 1.900 12.300 0 8.600 0zm0 1.500a4 4 0 1 1 0 8 4 4 0 0 1 0-8zm0 1.200a2.800 2.800 0 1 0 0 5.600 2.800 2.800 0 0 0 0-5.600z" fill="currentColor"/></svg></span><span class="n v" style="left:153.18px"><i>1</i>28</span><span class="g" style="left:251.3px"><svg class="ic bm" viewBox="0 0 12.4 14.4" width="12.4" height="14.4"><path d="M.75.75h10.900v12.500l-5.450-4.200-5.450 4.200z" fill="none" stroke="currentColor" stroke-width="1.5" stroke-linejoin="miter"/></svg></span><span class="n" style="left:268.36px"><i>1</i></span></div></article>
<article class="card" style="left:1467px;top:540px;height:144px;--c:#fae2f0;background:#fae2f0"><h3 class="t" style="top:23.95px"><span style="transform:scaleX(1.1694)">Improving public speaking</span>
<span style="transform:scaleX(1.14)">skills through speech analysis</span>
</h3><div class="f"><span class="g" style="left:29.9px"><svg class="ic like" viewBox="0 0 15 16" width="14.4" height="15.6"><path d="M.9 7.4h2.500v7H.9z" fill="currentColor" stroke="currentColor" stroke-width="1.2" stroke-linejoin="round"/><path d="M3.600 7.6c1.900-1.200 3.300-3 3.800-5.300.2-1.1.7-1.6 1.4-1.6 1 0 1.6.9 1.6 2.1 0 1-.3 2.1-.8 3.1h3.2c.9 0 1.5.6 1.5 1.400 0 .5-.2.9-.5 1.2.2.3.3.6.3 1 0 .6-.3 1.100-.8 1.400.1.2.1.4.1.6 0 .7-.4 1.3-1 1.500 0 1.200-.8 2.100-2 2.100H6.900c-.900 0-1.700-.2-2.800-.7" fill="none" stroke="currentColor" stroke-width="1.45" stroke-linejoin="round" stroke-linecap="round"/></svg></span><span class="n" style="left:49.16px"><i>1</i>2</span><span class="g v" style="left:133px"><svg class="ic eye" viewBox="0 0 17.2 11" width="17.2" height="11"><path fill-rule="evenodd" d="M8.6 0C4.900 0 2 1.900.1 5.500c1.900 3.600 4.800 5.500 8.500 5.500s6.600-1.900 8.500-5.500C15.200 1.900 12.300 0 8.600 0zm0 1.500a4 4 0 1 1 0 8 4 4 0 0 1 0-8zm0 1.200a2.800 2.800 0 1 0 0 5.600 2.800 2.800 0 0 0 0-5.600z" fill="currentColor"/></svg></span><span class="n v" style="left:154.86px"><i>1</i><i>1</i>8</span><span class="g" style="left:246.6px"><svg class="ic bm" viewBox="0 0 12.4 14.4" width="12.4" height="14.4"><path d="M.75.75h10.900v12.500l-5.450-4.200-5.450 4.200z" fill="none" stroke="currentColor" stroke-width="1.5" stroke-linejoin="miter"/></svg></span><span class="n" style="left:263.93px">0</span></div></article>
<article class="card" style="left:1467px;top:714px;height:168px;--c:#fae2f0;background:#fae2f0"><h3 class="t" style="top:23.95px"><span style="transform:scaleX(1.1497)">Finding the cheapest hotel</span>
<span style="transform:scaleX(1.1593)">rooms in popular tourist</span>
<span style="transform:scaleX(1.1606)">destinations</span>
</h3><div class="f"><span class="g" style="left:29.9px"><svg class="ic like" viewBox="0 0 15 16" width="14.4" height="15.6"><path d="M.9 7.4h2.500v7H.9z" fill="currentColor" stroke="currentColor" stroke-width="1.2" stroke-linejoin="round"/><path d="M3.600 7.6c1.900-1.200 3.300-3 3.800-5.300.2-1.1.7-1.6 1.4-1.6 1 0 1.6.9 1.6 2.1 0 1-.3 2.1-.8 3.1h3.2c.9 0 1.5.6 1.5 1.400 0 .5-.2.9-.5 1.2.2.3.3.6.3 1 0 .6-.3 1.100-.8 1.400.1.2.1.4.1.6 0 .7-.4 1.3-1 1.500 0 1.200-.8 2.100-2 2.100H6.900c-.900 0-1.700-.2-2.800-.7" fill="none" stroke="currentColor" stroke-width="1.45" stroke-linejoin="round" stroke-linecap="round"/></svg></span><span class="n" style="left:49.45px">3</span><span class="g v" style="left:133.15px"><svg class="ic eye" viewBox="0 0 17.2 11" width="17.2" height="11"><path fill-rule="evenodd" d="M8.6 0C4.900 0 2 1.900.1 5.500c1.900 3.600 4.800 5.500 8.500 5.500s6.600-1.900 8.500-5.500C15.200 1.900 12.300 0 8.600 0zm0 1.500a4 4 0 1 1 0 8 4 4 0 0 1 0-8zm0 1.200a2.800 2.800 0 1 0 0 5.600 2.800 2.800 0 0 0 0-5.600z" fill="currentColor"/></svg></span><span class="n v" style="left:155.01px"><i>1</i><i>1</i><i>1</i></span><span class="g" style="left:246.6px"><svg class="ic bm" viewBox="0 0 12.4 14.4" width="12.4" height="14.4"><path d="M.75.75h10.900v12.500l-5.450-4.200-5.450 4.200z" fill="none" stroke="currentColor" stroke-width="1.5" stroke-linejoin="miter"/></svg></span><span class="n" style="left:263.93px">0</span></div></article>
<article class="card" style="left:1467px;top:912px;height:145px;--c:#fefce4;background:#fefce4"><h3 class="t" style="top:24.95px"><span style="transform:scaleX(1.1767)">Card cancellation made</span>
<span style="transform:scaleX(1.1788)">simple</span>
</h3><div class="f"><span class="g" style="left:29.9px"><svg class="ic like" viewBox="0 0 15 16" width="14.4" height="15.6"><path d="M.9 7.4h2.500v7H.9z" fill="currentColor" stroke="currentColor" stroke-width="1.2" stroke-linejoin="round"/><path d="M3.600 7.6c1.900-1.200 3.300-3 3.800-5.300.2-1.1.7-1.6 1.4-1.6 1 0 1.6.9 1.6 2.1 0 1-.3 2.1-.8 3.1h3.2c.9 0 1.5.6 1.5 1.400 0 .5-.2.9-.5 1.2.2.3.3.6.3 1 0 .6-.3 1.100-.8 1.400.1.2.1.4.1.6 0 .7-.4 1.3-1 1.500 0 1.200-.8 2.100-2 2.100H6.900c-.900 0-1.700-.2-2.800-.7" fill="none" stroke="currentColor" stroke-width="1.45" stroke-linejoin="round" stroke-linecap="round"/></svg></span><span class="n" style="left:49.26px">6</span><span class="g v" style="left:131.32px"><svg class="ic eye" viewBox="0 0 17.2 11" width="17.2" height="11"><path fill-rule="evenodd" d="M8.6 0C4.900 0 2 1.900.1 5.500c1.900 3.600 4.800 5.500 8.500 5.500s6.600-1.900 8.500-5.500C15.200 1.900 12.300 0 8.600 0zm0 1.500a4 4 0 1 1 0 8 4 4 0 0 1 0-8zm0 1.200a2.800 2.800 0 1 0 0 5.600 2.800 2.800 0 0 0 0-5.600z" fill="currentColor"/></svg></span><span class="n v" style="left:153.18px"><i>1</i>05</span><span class="g" style="left:251.3px"><svg class="ic bm" viewBox="0 0 12.4 14.4" width="12.4" height="14.4"><path d="M.75.75h10.900v12.500l-5.450-4.200-5.450 4.200z" fill="none" stroke="currentColor" stroke-width="1.5" stroke-linejoin="miter"/></svg></span><span class="n" style="left:268.36px"><i>1</i></span></div></article>
</main>
<div class="fb"><svg width="50" height="50" viewBox="0 0 50 50" fill="none" stroke="#5a2608" stroke-width="1.300" stroke-linecap="round" stroke-linejoin="round">
<path d="M25.500 14.800h-17.300a2 2 0 0 0-2 2v15.500a2 2 0 0 0 2 2h9.200v5.600l9.500-5.600h9.500a2 2 0 0 0 2-2v-3"/>
<path d="M10.500 18.800h15M10.500 22.200h7.200M20.500 22.200h4.500M10.500 25.600h12M10.500 29h7M21.500 29h7.500" stroke-width="1.500" stroke-linecap="butt"/>
<path d="M27.400 18.200h3.400v8.600h-3.400z"/>
<path d="M30.800 19c2.200-1.500 3.600-4.200 4.300-7 .3-1.300 1-1.900 1.800-1.500 1.300.5 1.600 1.900 1.300 3.400l-.7 3.100h4.300c1.200 0 2 .9 1.900 2.100l-.8 5.600c-.2 1.200-1.100 2.100-2.300 2.100h-9.800"/>
</svg></div>
</body></html>
